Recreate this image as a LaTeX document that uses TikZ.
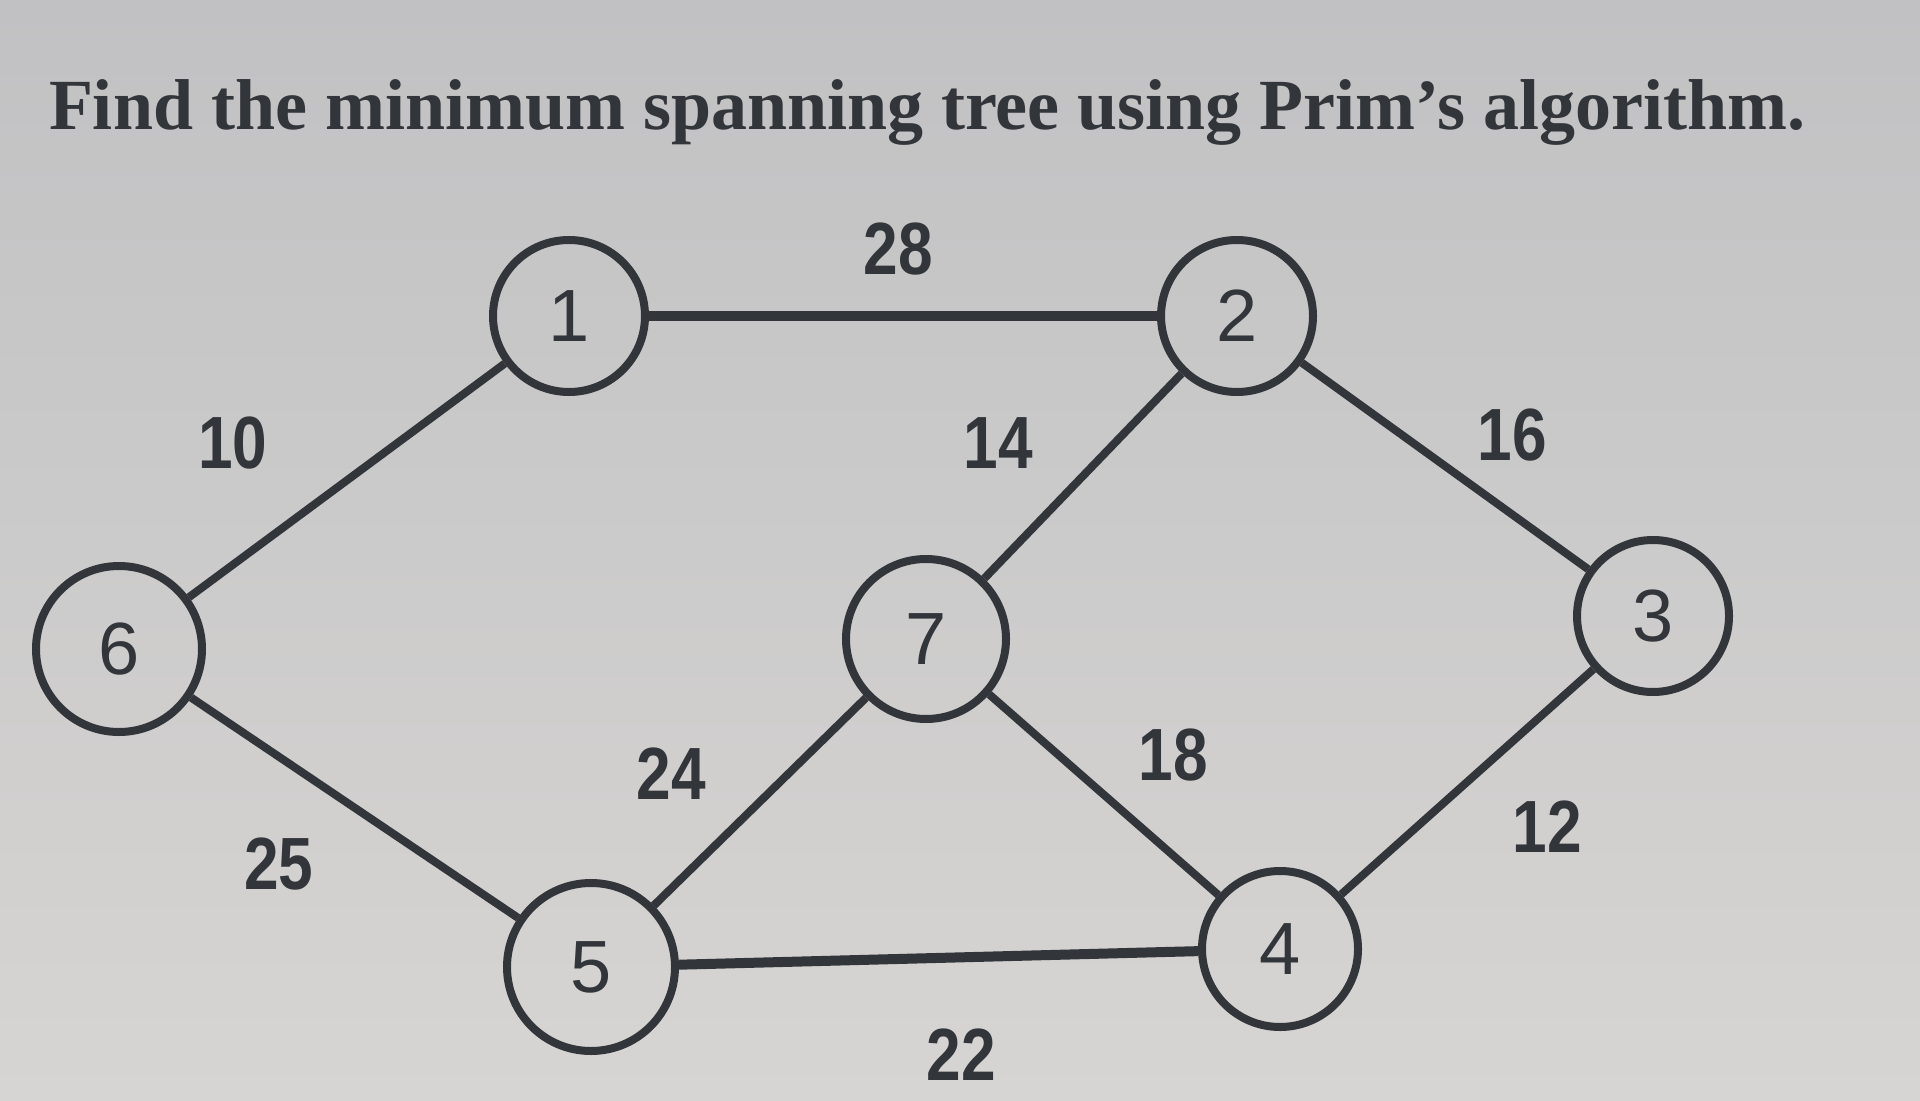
\documentclass[tikz,border=0pt]{standalone}
\usepackage{fontspec}
\setmainfont{Liberation Sans}
\newfontfamily\titlefont{Liberation Serif}
\newfontfamily\weightfont[FakeStretch=0.84]{Liberation Sans}
\definecolor{bgtop}{RGB}{193,193,195}
\definecolor{bgbot}{RGB}{215,213,211}
\definecolor{ink}{RGB}{50,53,58}

\begin{document}
\begin{tikzpicture}[x=0.5pt, y=-0.5pt, ink, line width=4pt,
	main/.style = {draw=ink, circle, inner sep=0pt, minimum size=76pt, font=\fontsize{37}{37}\selectfont},
	wt/.style = {font=\weightfont\bfseries\fontsize{37}{37}\selectfont, inner sep=0pt},
	edge/.style = {draw=ink}]
	\useasboundingbox (0,0) rectangle (1920,1101);
	\shade[top color=bgtop, bottom color=bgbot] (0,0) rectangle (1920,1101);
	\node[anchor=west, inner sep=0pt, font=\titlefont\bfseries\fontsize{36}{36}\selectfont] (title) at (45,112) {Find the minimum spanning tree using Prim’s algorithm.};
	
	\node[main] (1) at (569,316) {1};
	\node[main] (2) at (1237,316) {2};
	\node[main] (3) at (1653,616) {3};
	\node[main, minimum size=83pt] (6) at (119,649) {6};
	\node[main, minimum size=80pt] (7) at (926,639) {7};
	\node[main, minimum size=84pt] (5) at (591,967) {5};
	\node[main, minimum size=78pt] (4) at (1280,949) {4};
	
	\draw[edge, line width=4.6pt] (1) -- (2);
	\draw[edge] (1) -- (6);
	\draw[edge] (2) -- (7);
	\draw[edge] (2) -- (3);
	\draw[edge] (6) -- (5);
	\draw[edge] (7) -- (5);
	\draw[edge] (7) -- (4);
	\draw[edge] (3) -- (4);
	\draw[edge, line width=5pt] (5) -- (4);
	
	\node[wt] (w12) at (898,249) {28};
	\node[wt] (w16) at (233,443) {10};
	\node[wt] (w27) at (998,443) {14};
	\node[wt] (w23) at (1512,435) {16};
	\node[wt] (w57) at (671,774) {24};
	\node[wt] (w74) at (1173,755) {18};
	\node[wt] (w65) at (279,864) {25};
	\node[wt] (w34) at (1547,827) {12};
	\node[wt] (w54) at (961,1055) {22};
	
\end{tikzpicture}
\end{document}
